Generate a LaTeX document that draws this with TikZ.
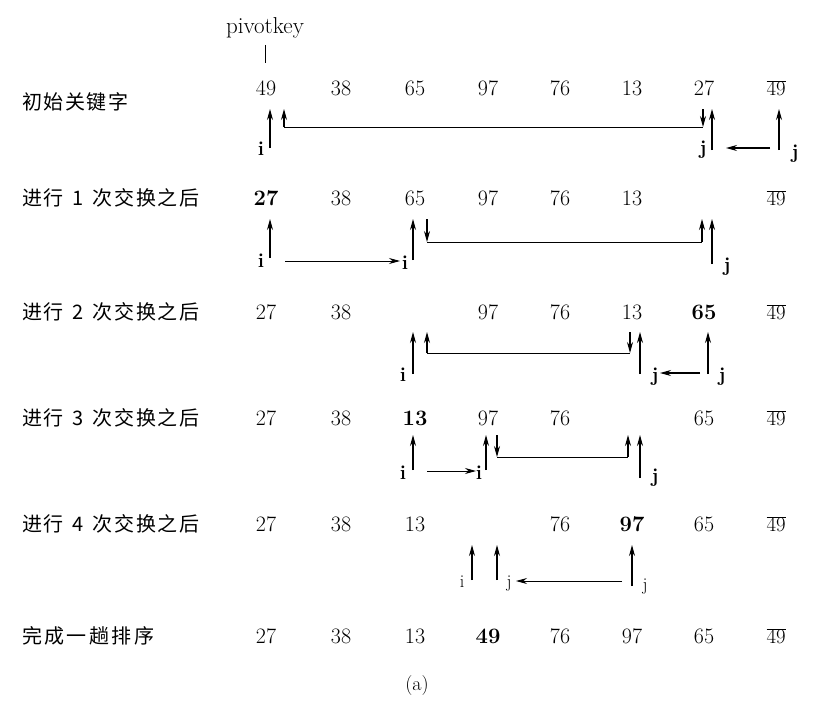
\documentclass[tikz,border=0pt]{standalone}
\usepackage{fontspec}
\newfontfamily\cjk[LetterSpace=8]{Noto Sans CJK SC}
\usepackage{tikz}
\usetikzlibrary{arrows.meta}

\tikzset{
  num/.style={font=\fontsize{22}{22}\selectfont, inner sep=0pt},
  bnum/.style={font=\fontsize{22}{22}\selectfont\bfseries, inner sep=0pt},
  row/.style={font=\cjk\fontsize{20}{20}\selectfont, anchor=west, inner sep=0pt},
  ij/.style={font=\fontsize{20}{20}\selectfont\bfseries, inner sep=0pt},
  ijl/.style={font=\fontsize{18}{18}\selectfont, inner sep=0pt},
  ptr/.style={line width=1.1pt, -{Stealth[length=11pt,width=6pt]}},
  mv/.style={line width=0.8pt, -{Stealth[length=11pt,width=6pt]}},
  link/.style={line width=0.8pt}
}

\begin{document}
\begin{tikzpicture}[x=1pt,y=-1pt]
\useasboundingbox (0,0) rectangle (829,701);

\node[num,font=\fontsize{23}{23}\selectfont] (pk) at (265,28) {pivotkey};
\coordinate (pkt) at (265,45);
\coordinate (pkb) at (265,63);
\draw[line width=0.6pt] (pkt) -- (pkb);

% row labels
\node[row] (l1) at (22,102) {初始关键字};
\node[row] (l2) at (22,198) {进行\hspace{9pt}1\hspace{9pt}次交换之后};
\node[row] (l3) at (22,312) {进行\hspace{9pt}2\hspace{9pt}次交换之后};
\node[row] (l4) at (22,418) {进行\hspace{9pt}3\hspace{9pt}次交换之后};
\node[row] (l5) at (22,524) {进行\hspace{9pt}4\hspace{9pt}次交换之后};
\node[row,font=\cjk\addfontfeature{LetterSpace=12}\fontsize{20}{20}\selectfont] (l6) at (22,636) {完成一趟排序};

% initial keys
\node[num] (a0) at (266,88) {49};
\node[num] (a1) at (341,88) {38};
\node[num] (a2) at (415,88) {65};
\node[num] (a3) at (488,88) {97};
\node[num] (a4) at (560,88) {76};
\node[num] (a5) at (632,88) {13};
\node[num] (a6) at (704,88) {27};
\node[num] (a7) at (776,88) {$\overline{49}$};

\coordinate (a0b) at (270,148); \coordinate (a0t) at (270,109);
\coordinate (a0s) at (284,127); \coordinate (a0u) at (284,109);
\coordinate (a6u) at (703,109); \coordinate (a6d) at (703,127);
\coordinate (a6b) at (712,150); \coordinate (a6t) at (712,109);
\coordinate (a7b) at (779,150); \coordinate (a7t) at (779,109);
\coordinate (a7m) at (770,148); \coordinate (a6m) at (726,148);
\draw[ptr] (a0b) -- (a0t);
\draw[ptr] (a0s) -- (a0u);
\draw[link] (a0s) -- (a6d);
\draw[ptr] (a6u) -- (a6d);
\draw[ptr] (a6b) -- (a6t);
\draw[ptr] (a7b) -- (a7t);
\draw[mv,line width=1.1pt] (a7m) -- (a6m);
\node[ij] (ai) at (261,149) {i};
\node[ij] (aj) at (703,150) {j};
\node[ij] (aj2) at (795,154) {j};

% after 1st exchange
\node[bnum] (b0) at (266,198) {27};
\node[num] (b1) at (341,198) {38};
\node[num] (b2) at (415,198) {65};
\node[num] (b3) at (488,198) {97};
\node[num] (b4) at (560,198) {76};
\node[num] (b5) at (632,198) {13};
\node[num] (b7) at (776,198) {$\overline{49}$};

\coordinate (b0b) at (270,258); \coordinate (b0t) at (270,219);
\coordinate (b0m) at (285,261); \coordinate (b2m) at (400,261);
\coordinate (b2b) at (413,260); \coordinate (b2t) at (413,219);
\coordinate (b2u) at (427,219); \coordinate (b2d) at (427,242);
\coordinate (b6s) at (702,242); \coordinate (b6u) at (702,219);
\coordinate (b6b) at (712,264); \coordinate (b6t) at (712,219);
\draw[ptr] (b0b) -- (b0t);
\draw[mv] (b0m) -- (b2m);
\draw[ptr] (b2b) -- (b2t);
\draw[ptr] (b2u) -- (b2d);
\draw[link] (b2d) -- (b6s);
\draw[ptr] (b6s) -- (b6u);
\draw[ptr] (b6b) -- (b6t);
\node[ij] (bi) at (261,261) {i};
\node[ij] (bi2) at (405,263) {i};
\node[ij] (bj) at (727,267) {j};

% after 2nd exchange
\node[num] (c0) at (266,312) {27};
\node[num] (c1) at (341,312) {38};
\node[num] (c3) at (488,312) {97};
\node[num] (c4) at (560,312) {76};
\node[num] (c5) at (632,312) {13};
\node[bnum] (c6) at (704,312) {65};
\node[num] (c7) at (776,312) {$\overline{49}$};

\coordinate (c2b) at (413,374); \coordinate (c2t) at (413,332);
\coordinate (c2s) at (427,353); \coordinate (c2u) at (427,332);
\coordinate (c5u) at (630,332); \coordinate (c5d) at (630,353);
\coordinate (c5b) at (640,374); \coordinate (c5t) at (640,332);
\coordinate (c6m) at (700,373); \coordinate (c5m) at (660,373);
\coordinate (c6b) at (708,374); \coordinate (c6t) at (708,332);
\draw[ptr] (c2b) -- (c2t);
\draw[ptr] (c2s) -- (c2u);
\draw[link] (c2s) -- (c5d);
\draw[ptr] (c5u) -- (c5d);
\draw[ptr] (c5b) -- (c5t);
\draw[mv,line width=1.1pt] (c6m) -- (c5m);
\draw[ptr] (c6b) -- (c6t);
\node[ij] (ci) at (403,375) {i};
\node[ij] (cj) at (655,377) {j};
\node[ij] (cj2) at (722,377) {j};

% after 3rd exchange
\node[num] (d0) at (266,418) {27};
\node[num] (d1) at (341,418) {38};
\node[bnum] (d2) at (415,418) {13};
\node[num] (d3) at (488,418) {97};
\node[num] (d4) at (560,418) {76};
\node[num] (d6) at (704,418) {65};
\node[num] (d7) at (776,418) {$\overline{49}$};

\coordinate (d2b) at (413,470); \coordinate (d2t) at (413,435);
\coordinate (d2m) at (427,471); \coordinate (d3m) at (476,471);
\coordinate (d3b) at (486,470); \coordinate (d3t) at (486,435);
\coordinate (d3u) at (497,435); \coordinate (d3d) at (497,457);
\coordinate (d5s) at (628,457); \coordinate (d5u) at (628,435);
\coordinate (d5b) at (640,478); \coordinate (d5t) at (640,435);
\draw[ptr] (d2b) -- (d2t);
\draw[mv] (d2m) -- (d3m);
\draw[ptr] (d3b) -- (d3t);
\draw[ptr] (d3u) -- (d3d);
\draw[link] (d3d) -- (d5s);
\draw[ptr] (d5s) -- (d5u);
\draw[ptr] (d5b) -- (d5t);
\node[ij] (di) at (403,473) {i};
\node[ij] (di2) at (479,473) {i};
\node[ij] (dj) at (655,478) {j};

% after 4th exchange
\node[num] (e0) at (266,524) {27};
\node[num] (e1) at (341,524) {38};
\node[num] (e2) at (415,524) {13};
\node[num] (e4) at (560,524) {76};
\node[bnum] (e5) at (632,524) {97};
\node[num] (e6) at (704,524) {65};
\node[num] (e7) at (776,524) {$\overline{49}$};

\coordinate (e3b) at (472,580); \coordinate (e3t) at (472,545);
\coordinate (e3c) at (497,580); \coordinate (e3u) at (497,545);
\coordinate (e5m) at (622,581); \coordinate (e3m) at (516,581);
\coordinate (e5b) at (632,586); \coordinate (e5t) at (632,545);
\draw[ptr] (e3b) -- (e3t);
\draw[ptr] (e3c) -- (e3u);
\draw[mv] (e5m) -- (e3m);
\draw[ptr] (e5b) -- (e5t);
\node[ijl] (ei) at (462,582) {i};
\node[ijl] (ej) at (509,584) {j};
\node[ijl] (ej2) at (645,587) {j};

% one pass done
\node[num] (f0) at (266,636) {27};
\node[num] (f1) at (341,636) {38};
\node[num] (f2) at (415,636) {13};
\node[bnum] (f3) at (488,636) {49};
\node[num] (f4) at (560,636) {76};
\node[num] (f5) at (632,636) {97};
\node[num] (f6) at (704,636) {65};
\node[num] (f7) at (776,636) {$\overline{49}$};

\node[num,font=\fontsize{20}{20}\selectfont] (cap) at (417,686) {(a)};

\end{tikzpicture}
\end{document}
